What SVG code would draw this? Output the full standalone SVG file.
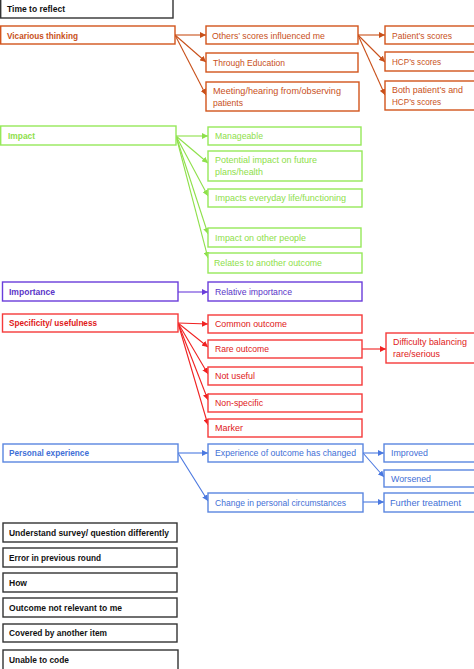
<svg xmlns="http://www.w3.org/2000/svg" width="474" height="669" viewBox="0 0 474 669">
<defs>
<style>
text{font-family:"Liberation Sans",Arial,sans-serif;font-size:9.3px}
.b{font-weight:bold}
rect{fill:#fff;stroke-width:1.4}
.k rect{stroke:#333}.k text{fill:#111}
.o rect{stroke:#d2541c}.o text{fill:#c8501a}.o line{stroke:#c8501a}
.g rect{stroke:#96e85a}.g text{fill:#8ee04a}.g line{stroke:#8ee04a}
.p rect{stroke:#6a3ddb}.p text{fill:#5a35c8}.p line{stroke:#6a3ddb}
.r rect{stroke:#f53a3a}.r text{fill:#e01818}.r line{stroke:#f02020}
.u rect{stroke:#5a86e0}.u text{fill:#3f6fd6}.u line{stroke:#4a78e0}
line{stroke-width:1.1}
</style>
<marker id="ao" viewBox="0 0 6 6" refX="6" refY="3" markerWidth="6" markerHeight="6" orient="auto" markerUnits="userSpaceOnUse"><path d="M0,0L6,3L0,6z" fill="#c8501a"/></marker>
<marker id="ag" viewBox="0 0 6 6" refX="6" refY="3" markerWidth="6" markerHeight="6" orient="auto" markerUnits="userSpaceOnUse"><path d="M0,0L6,3L0,6z" fill="#8ee04a"/></marker>
<marker id="ap" viewBox="0 0 6 6" refX="6" refY="3" markerWidth="6" markerHeight="6" orient="auto" markerUnits="userSpaceOnUse"><path d="M0,0L6,3L0,6z" fill="#6a3ddb"/></marker>
<marker id="ar" viewBox="0 0 6 6" refX="6" refY="3" markerWidth="6" markerHeight="6" orient="auto" markerUnits="userSpaceOnUse"><path d="M0,0L6,3L0,6z" fill="#f02020"/></marker>
<marker id="au" viewBox="0 0 6 6" refX="6" refY="3" markerWidth="6" markerHeight="6" orient="auto" markerUnits="userSpaceOnUse"><path d="M0,0L6,3L0,6z" fill="#4a78e0"/></marker>
</defs>
<rect x="0" y="0" width="474" height="669" fill="#fff" stroke="none"/>

<g id="connectors">
<g class="o" marker-end="url(#ao)">
<line x1="175" y1="35" x2="206" y2="35"/>
<line x1="175" y1="35" x2="206" y2="62"/>
<line x1="175" y1="35" x2="206" y2="95"/>
<line x1="358" y1="35" x2="385" y2="35"/>
<line x1="358" y1="35" x2="385" y2="62"/>
<line x1="358" y1="35" x2="385" y2="95"/>
</g>
<g class="g" marker-end="url(#ag)">
<line x1="176" y1="136" x2="208" y2="136"/>
<line x1="176" y1="136" x2="208" y2="163"/>
<line x1="176" y1="136" x2="208" y2="196"/>
<line x1="176" y1="136" x2="208" y2="234"/>
<line x1="176" y1="136" x2="208" y2="258"/>
</g>
<g class="p" marker-end="url(#ap)">
<line x1="178" y1="292" x2="208" y2="292"/>
</g>
<g class="r" marker-end="url(#ar)">
<line x1="178" y1="323" x2="208" y2="324"/>
<line x1="178" y1="323" x2="208" y2="347"/>
<line x1="178" y1="323" x2="208" y2="374"/>
<line x1="178" y1="323" x2="208" y2="400"/>
<line x1="178" y1="323" x2="208" y2="425"/>
<line x1="362" y1="349" x2="386" y2="349"/>
</g>
<g class="u" marker-end="url(#au)">
<line x1="178" y1="453" x2="208" y2="453"/>
<line x1="178" y1="453" x2="208" y2="501"/>
<line x1="363" y1="453" x2="384" y2="453"/>
<line x1="363" y1="453" x2="384" y2="477"/>
<line x1="363" y1="502" x2="384" y2="502"/>
</g>
</g>

<g id="time-to-reflect" class="k"><rect x="0.7" y="-1" width="172.3" height="19"/><text class="b" x="7" y="12.3" textLength="58" lengthAdjust="spacingAndGlyphs">Time to reflect</text></g>

<g id="vicarious" class="o"><rect x="0.7" y="26" width="174.3" height="18"/><text class="b" x="7" y="38.8" textLength="71" lengthAdjust="spacingAndGlyphs">Vicarious thinking</text></g>
<g id="others-scores" class="o"><rect x="206" y="26" width="152" height="18"/><text x="212" y="38.8" textLength="113" lengthAdjust="spacingAndGlyphs">Others’ scores influenced me</text></g>
<g id="through-education" class="o"><rect x="206" y="53" width="152" height="19"/><text x="213" y="65.8" textLength="72" lengthAdjust="spacingAndGlyphs">Through Education</text></g>
<g id="meeting" class="o"><rect x="206" y="82" width="153" height="29"/><text x="213" y="94.3" textLength="128" lengthAdjust="spacingAndGlyphs">Meeting/hearing from/observing</text><text x="213" y="105.8" textLength="30" lengthAdjust="spacingAndGlyphs">patients</text></g>
<g id="patients-scores" class="o"><rect x="385" y="26" width="90" height="18"/><text x="392" y="38.8" textLength="60" lengthAdjust="spacingAndGlyphs">Patient’s scores</text></g>
<g id="hcp-scores" class="o"><rect x="385" y="52" width="90" height="19"/><text x="392" y="64.8" textLength="49" lengthAdjust="spacingAndGlyphs">HCP’s scores</text></g>
<g id="both-scores" class="o"><rect x="385" y="81" width="90" height="29"/><text x="392" y="93.3" textLength="71" lengthAdjust="spacingAndGlyphs">Both patient’s and</text><text x="392" y="104.8" textLength="49" lengthAdjust="spacingAndGlyphs">HCP’s scores</text></g>

<g id="impact" class="g"><rect x="0.7" y="126" width="175.3" height="19"/><text class="b" x="8" y="138.8" textLength="27" lengthAdjust="spacingAndGlyphs">Impact</text></g>
<g id="manageable" class="g"><rect x="208" y="127" width="153" height="18"/><text x="215" y="139.3" textLength="48" lengthAdjust="spacingAndGlyphs">Manageable</text></g>
<g id="potential-impact" class="g"><rect x="208" y="151" width="154" height="30"/><text x="215" y="163.3" textLength="102" lengthAdjust="spacingAndGlyphs">Potential impact on future</text><text x="215" y="174.8" textLength="48" lengthAdjust="spacingAndGlyphs">plans/health</text></g>
<g id="impacts-everyday" class="g"><rect x="208" y="189" width="154" height="18"/><text x="215" y="201.3" textLength="131" lengthAdjust="spacingAndGlyphs">Impacts everyday life/functioning</text></g>
<g id="impact-others" class="g"><rect x="208" y="228" width="153" height="19"/><text x="215" y="240.8" textLength="91" lengthAdjust="spacingAndGlyphs">Impact on other people</text></g>
<g id="relates-another" class="g"><rect x="208" y="253" width="154" height="20"/><text x="214" y="266.3" textLength="108" lengthAdjust="spacingAndGlyphs">Relates to another outcome</text></g>

<g id="importance" class="p"><rect x="2.5" y="282" width="175.5" height="19"/><text class="b" x="9" y="294.8" textLength="46" lengthAdjust="spacingAndGlyphs">Importance</text></g>
<g id="relative-importance" class="p"><rect x="208" y="282" width="154" height="19"/><text x="215" y="294.8" textLength="77" lengthAdjust="spacingAndGlyphs">Relative importance</text></g>

<g id="specificity" class="r"><rect x="2.5" y="314" width="175.5" height="18"/><text class="b" x="9" y="326.3" textLength="88" lengthAdjust="spacingAndGlyphs">Specificity/ usefulness</text></g>
<g id="common-outcome" class="r"><rect x="208" y="315" width="154" height="18"/><text x="215" y="327.3" textLength="72" lengthAdjust="spacingAndGlyphs">Common outcome</text></g>
<g id="rare-outcome" class="r"><rect x="208" y="340" width="154" height="18"/><text x="215" y="352.3" textLength="54" lengthAdjust="spacingAndGlyphs">Rare outcome</text></g>
<g id="not-useful" class="r"><rect x="208" y="367" width="154" height="18"/><text x="215" y="379.3" textLength="40" lengthAdjust="spacingAndGlyphs">Not useful</text></g>
<g id="non-specific" class="r"><rect x="208" y="394" width="154" height="18"/><text x="215" y="406.3" textLength="48" lengthAdjust="spacingAndGlyphs">Non-specific</text></g>
<g id="marker" class="r"><rect x="208" y="419" width="154" height="18"/><text x="215" y="431.3" textLength="28" lengthAdjust="spacingAndGlyphs">Marker</text></g>
<g id="difficulty-balancing" class="r"><rect x="386" y="333" width="89" height="30"/><text x="393" y="345.3" textLength="74" lengthAdjust="spacingAndGlyphs">Difficulty balancing</text><text x="393" y="356.8" textLength="47" lengthAdjust="spacingAndGlyphs">rare/serious</text></g>

<g id="personal-experience" class="u"><rect x="3" y="444" width="175" height="18"/><text class="b" x="9" y="456.3" textLength="80" lengthAdjust="spacingAndGlyphs">Personal experience</text></g>
<g id="experience-changed" class="u"><rect x="208" y="444" width="155" height="18"/><text x="215" y="456.3" textLength="141" lengthAdjust="spacingAndGlyphs">Experience of outcome has changed</text></g>
<g id="change-circumstances" class="u"><rect x="208" y="493" width="155" height="19"/><text x="215" y="505.8" textLength="131" lengthAdjust="spacingAndGlyphs">Change in personal circumstances</text></g>
<g id="improved" class="u"><rect x="384" y="444" width="91" height="18"/><text x="391" y="456.3" textLength="37" lengthAdjust="spacingAndGlyphs">Improved</text></g>
<g id="worsened" class="u"><rect x="384" y="470" width="91" height="17"/><text x="391" y="481.8" textLength="40" lengthAdjust="spacingAndGlyphs">Worsened</text></g>
<g id="further-treatment" class="u"><rect x="384" y="493" width="91" height="19"/><text x="390" y="505.8" textLength="71" lengthAdjust="spacingAndGlyphs">Further treatment</text></g>

<g id="understand-survey" class="k"><rect x="3" y="523" width="174" height="19"/><text class="b" x="9" y="535.8" textLength="160" lengthAdjust="spacingAndGlyphs">Understand survey/ question differently</text></g>
<g id="error-previous" class="k"><rect x="3" y="548" width="174" height="19"/><text class="b" x="9" y="560.8" textLength="92" lengthAdjust="spacingAndGlyphs">Error in previous round</text></g>
<g id="how" class="k"><rect x="3" y="573" width="174" height="19"/><text class="b" x="9" y="585.8" textLength="18" lengthAdjust="spacingAndGlyphs">How</text></g>
<g id="outcome-not-relevant" class="k"><rect x="3" y="598" width="174" height="19"/><text class="b" x="9" y="610.8" textLength="113" lengthAdjust="spacingAndGlyphs">Outcome not relevant to me</text></g>
<g id="covered-another" class="k"><rect x="3" y="624" width="174" height="18"/><text class="b" x="9" y="636.3" textLength="98" lengthAdjust="spacingAndGlyphs">Covered by another item</text></g>
<g id="unable-to-code" class="k"><rect x="3" y="650" width="175" height="20"/><text class="b" x="9" y="662.8" textLength="60" lengthAdjust="spacingAndGlyphs">Unable to code</text></g>
</svg>
